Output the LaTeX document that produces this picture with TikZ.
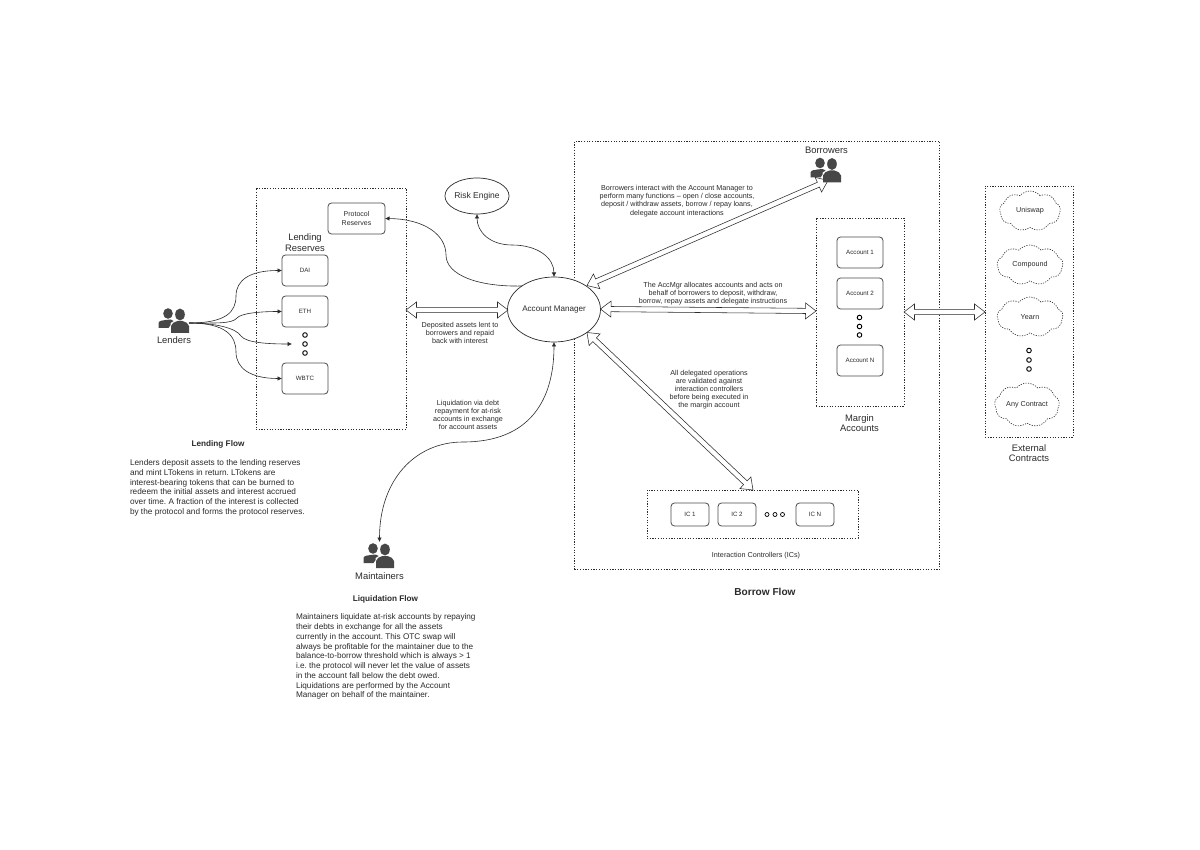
\documentclass[tikz,border=0pt]{standalone}
\usepackage{fontspec}
\setmainfont{Liberation Sans}
\usetikzlibrary{arrows.meta,calc,shapes.geometric,shapes.symbols}
\definecolor{ink}{HTML}{2B2B2B}
\definecolor{icon}{HTML}{474747}
\newcommand{\fs}[1]{\fontsize{#1}{#1}\selectfont}
\newcommand{\peopleicon}[2]{%
  \begin{scope}[shift={(#1,#2)}]
    \fill[icon] (-6.5,-6.5) circle[x radius=4.8,y radius=5.3];
    \fill[icon] (-16,8) -- (-16,3) .. controls (-15.5,0.5) and (-12,0.5) .. (-9,0) -- (-4,-0.5) -- (-1,1) -- (-4,3) -- (-4,5) -- (-6,8) -- cycle;
    \fill[icon] (5.5,-5.5) circle[x radius=4.8,y radius=6];
    \fill[icon] (-3.5,13) -- (-3.5,6) .. controls (-3,3) and (0,2) .. (3,1) -- (8,1) .. controls (11,2) and (14,3) .. (14.5,6) -- (14.5,13) -- cycle;
  \end{scope}}
% hollow two-headed connector between two named points
\newcommand{\hollowconn}[2]{%
  \draw[hollow] (#1)
    -- ($(#1)!10.5pt!(#2)!8pt!90:(#2)$)
    -- ($(#1)!10.5pt!(#2)!2.6pt!90:(#2)$)
    -- ($(#2)!10.5pt!(#1)!2.6pt!-90:(#1)$)
    -- ($(#2)!10.5pt!(#1)!8pt!-90:(#1)$)
    -- (#2)
    -- ($(#2)!10.5pt!(#1)!8pt!90:(#1)$)
    -- ($(#2)!10.5pt!(#1)!2.6pt!90:(#1)$)
    -- ($(#1)!10.5pt!(#2)!2.6pt!-90:(#2)$)
    -- ($(#1)!10.5pt!(#2)!8pt!-90:(#2)$)
    -- cycle;}
\tikzset{
  every node/.style={text=ink,inner sep=0pt,outer sep=0pt},
  dotbox/.style={draw=ink,line width=.65pt,dash pattern=on 1.2pt off 1.5pt},
  item/.style={draw=ink!85,line width=.8pt,rounded corners=3.5pt,fill=white,anchor=north west,font=\fs{6.2}},
  oval/.style={draw=ink,line width=.7pt,ellipse,fill=white},
  dotmark/.style={draw=black,line width=.9pt,circle,minimum size=4.6pt},
  dotsmall/.style={draw=black,line width=.7pt,circle,minimum size=4pt},
  puff/.style={cloud,cloud puffs=9,cloud puff arc=100,draw=ink,line width=.6pt,dash pattern=on 1.2pt off 1.3pt,aspect=1.6,font=\fs{7.2}},
  note/.style={align=center,font=\fs{7.2}},
  big/.style={align=center,font=\fs{9.4}},
  para/.style={align=left,anchor=north west,font=\fontsize{8.25}{9.8}\selectfont},
  para2/.style={align=left,anchor=north west,font=\fontsize{8.2}{9.75}\selectfont},
  head/.style={font=\fs{8.2}\bfseries},
  wire/.style={draw=ink,line width=.6pt,-{Latex[length=4.5pt,width=4.5pt]}},
  wire2/.style={draw=ink,line width=.6pt,{Latex[length=4.5pt,width=4.5pt]}-{Latex[length=4.5pt,width=4.5pt]}},
  hollow/.style={draw=ink,line width=.55pt,fill=white,line join=miter}
}
\begin{document}
\frenchspacing
\begin{tikzpicture}[x=1pt,y=-1pt]
\useasboundingbox[fill=white] (0,0) rectangle (1200,850);

% dotted containers
\node[dotbox,anchor=north west,minimum width=150pt,minimum height=241.5pt] (lendbox) at (256,188) {};
\node[dotbox,anchor=north west,minimum width=365pt,minimum height=428pt] (borrowbox) at (574.5,141.5) {};
\node[dotbox,anchor=north west,minimum width=88pt,minimum height=188pt] (marginbox) at (816,218) {};
\node[dotbox,anchor=north west,minimum width=88pt,minimum height=251pt] (extbox) at (985,186) {};
\node[dotbox,anchor=north west,minimum width=211pt,minimum height=48pt] (icbox) at (647,490) {};

% lending boxes
\node[item,font=\fs{7},minimum width=57pt,minimum height=31pt,align=center] (proto) at (328,203) {Protocol\\[1.5pt]Reserves};
\node[item,minimum width=46pt,minimum height=31pt] (dai) at (282,255) {DAI};
\node[item,minimum width=46pt,minimum height=31pt] (eth) at (282,296) {ETH};
\node[item,minimum width=46pt,minimum height=31pt] (wbtc) at (282,363) {WBTC};
\node[dotmark] (ld1) at (305,335) {};
\node[dotmark] (ld2) at (305,344) {};
\node[dotmark] (ld3) at (305,353) {};
\coordinate (ldin) at (292,344);
\node[big] (lrlabel) at (305,242.5) {Lending\\[1.3pt]Reserves};

% ovals
\node[oval,font=\fs{8.1},minimum width=93pt,minimum height=65pt] (am) at (554,309.5) {Account Manager};
\node[oval,font=\fs{8.5},minimum width=62pt,minimum height=36pt] (risk) at (477,196) {Risk Engine};

% margin accounts
\node[item,minimum width=46pt,minimum height=31pt] (a1) at (837,237) {Account 1};
\node[item,minimum width=46pt,minimum height=31pt] (a2) at (837,278) {Account 2};
\node[item,minimum width=46pt,minimum height=31pt] (an) at (837,345) {Account N};
\node[dotmark] (md1) at (859.5,317.5) {};
\node[dotmark] (md2) at (859.5,326.5) {};
\node[dotmark] (md3) at (859.5,335) {};
\node[big] (malabel) at (859.5,423) {Margin\\[1pt]Accounts};

% external contracts
\node[puff,minimum width=61pt,minimum height=40pt] (uni) at (1030,211) {Uniswap};
\node[puff,minimum width=66pt,minimum height=40pt] (comp) at (1030,265) {Compound};
\node[puff,minimum width=66pt,minimum height=40pt] (yearn) at (1030,317) {Yearn};
\node[puff,minimum width=65pt,minimum height=42pt] (any) at (1027,405) {Any Contract};
\node[dotmark] (ed1) at (1029,350.5) {};
\node[dotmark] (ed2) at (1029,360) {};
\node[dotmark] (ed3) at (1029,369) {};
\node[big] (exlabel) at (1029,453) {External\\[1pt]Contracts};

% interaction controllers
\node[item,minimum width=38pt,minimum height=23pt] (ic1) at (671,503) {IC 1};
\node[item,minimum width=38pt,minimum height=23pt] (ic2) at (718,503) {IC 2};
\node[item,minimum width=38pt,minimum height=23pt] (icn) at (796,503) {IC N};
\node[dotsmall] (id1) at (767,514.5) {};
\node[dotsmall] (id2) at (775,514.5) {};
\node[dotsmall] (id3) at (782.5,514.5) {};
\node[font=\fs{7.2}] (iclabel) at (756,555.5) {Interaction Controllers (ICs)};
\node[font=\fs{10.1}\bfseries] (bflabel) at (765,592) {Borrow Flow};

\coordinate (lenders) at (189,323);
\coordinate (maint) at (379.5,542);
\coordinate (borrow) at (828,180.5);
\node[big] (lenderslabel) at (174,340.5) {Lenders};
\node[big] (mainlabel) at (379.5,576.5) {Maintainers};
\node[big] (borrowlabel) at (826.5,150.5) {Borrowers};

% curved connectors
\draw[wire] (lenders) .. controls (226,323) and (236,312) .. (236,296) .. controls (236,280) and (250,270.5) .. (dai.west);
\draw[wire] (lenders) .. controls (215,323) and (232,324) .. (237,318) .. controls (241,313) and (262,311.5) .. (eth.west);
\draw[wire] (lenders) .. controls (215,323) and (236,328) .. (241,336) .. controls (246,343) and (270,344) .. (ldin);
\draw[wire] (lenders) .. controls (226,323) and (236,336) .. (236,352) .. controls (236,368) and (250,378.5) .. (wbtc.west);
\coordinate (amnw) at (522,286);
\draw[wire] (amnw) .. controls (478,287) and (446,275) .. (446,255) .. controls (446,235) and (425,219) .. (proto.east);
\draw[wire2] (risk.south) .. controls (477,232) and (490,245) .. (512,245) .. controls (538,245) and (554,258) .. (am.north);
\draw[wire2] (am.south) .. controls (554,400) and (530,442) .. (463,442) .. controls (415,442) and (379.5,480) .. (maint);

% hollow connectors
\coordinate (lbr) at (406,310);
\coordinate (amw) at (508,310);
\coordinate (amtr) at (587,285.5);
\coordinate (ame) at (600.5,309);
\coordinate (mbw) at (816,311);
\coordinate (ambr) at (587,332.5);
\coordinate (ictop) at (753,490);
\coordinate (mbe) at (904,312);
\coordinate (exw) at (985,312);
\hollowconn{lbr}{amw}
\hollowconn{amtr}{borrow}
\hollowconn{ame}{mbw}
\hollowconn{ambr}{ictop}
\hollowconn{mbe}{exw}

% people
\peopleicon{174.5}{320}
\peopleicon{379.5}{555}
\peopleicon{826.5}{169.5}

% labels
\node[note] (n1) at (460,333) {Deposited assets lent to\\[.9pt]borrowers and repaid\\[.9pt]back with interest};
\node[note] (n2) at (677,201) {Borrowers interact with the Account Manager to\\[.9pt]perform many functions -- open / close accounts,\\[.9pt]deposit / withdraw assets, borrow / repay loans,\\[.9pt]delegate account interactions};
\node[note] (n3) at (713,294) {The AccMgr allocates accounts and acts on\\[.9pt]behalf of borrowers to deposit, withdraw,\\[.9pt]borrow, repay assets and delegate instructions};
\node[note] (n4) at (709,389.5) {All delegated operations\\[.9pt]are validated against\\[.9pt]interaction controllers\\[.9pt]before being executed in\\[.9pt]the margin account};
\node[note] (n5) at (468,415) {Liquidation via debt\\[.9pt]repayment for at-risk\\[.9pt]accounts in exchange\\[.9pt]for account assets};

\node[head] (lfhead) at (218,444.5) {Lending Flow};
\node[para] (lftext) at (130,459.5) {Lenders deposit assets to the lending reserves\\and mint LTokens in return. LTokens are\\interest-bearing tokens that can be burned to\\redeem the initial assets and interest accrued\\over time. A fraction of the interest is collected\\by the protocol and forms the protocol reserves.};
\node[head] (lqhead) at (385.5,599) {Liquidation Flow};
\node[para2] (lqtext) at (296,614) {Maintainers liquidate at-risk accounts by repaying\\their debts in exchange for all the assets\\currently in the account. This OTC swap will\\always be profitable for the maintainer due to the\\balance-to-borrow threshold which is always > 1\\i.e. the protocol will never let the value of assets\\in the account fall below the debt owed.\\Liquidations are performed by the Account\\Manager on behalf of the maintainer.};
\end{tikzpicture}
\end{document}
